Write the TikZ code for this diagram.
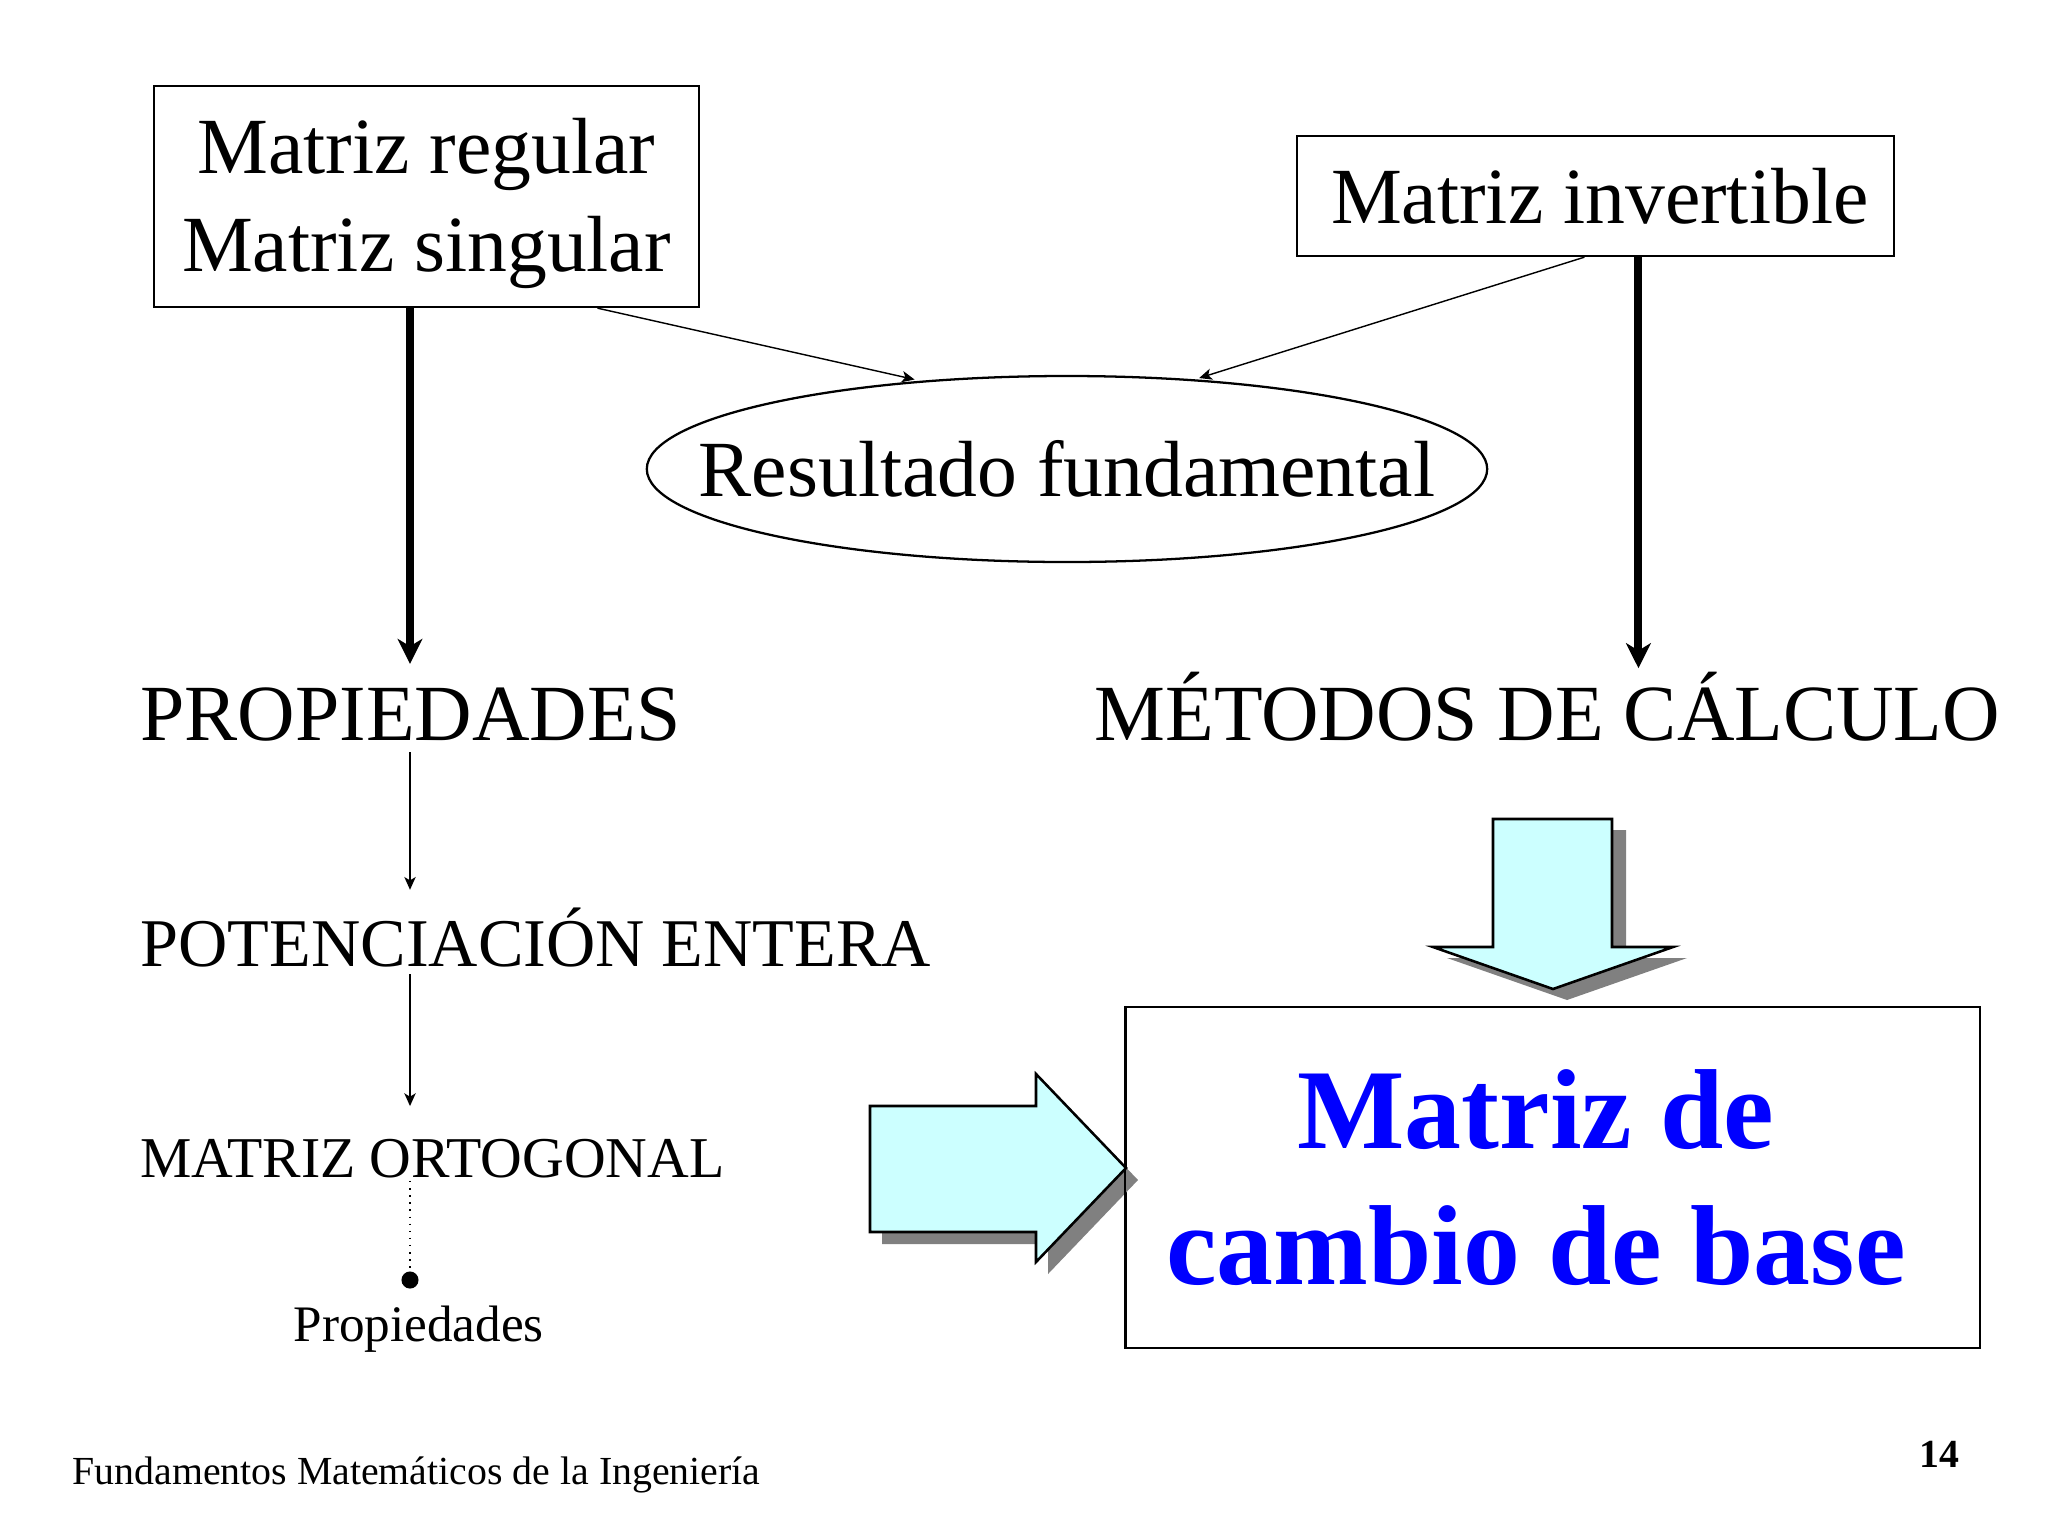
\documentclass[tikz,border=0pt]{standalone}
\usepackage{fontspec}
\setmainfont{Liberation Serif}
\usetikzlibrary{arrows.meta,positioning,shapes.geometric}
\definecolor{lightcyan}{RGB}{204,255,255}
\definecolor{shadowgray}{RGB}{128,128,128}
\definecolor{pureblue}{RGB}{0,0,255}

\begin{document}
\begin{tikzpicture}[x=0.3516pt, y=-0.3516pt,
    textlabel/.style={anchor=base west, inner sep=0pt},
    topbox/.style={rectangle, draw, line width=0.8pt, align=center, font=\fontsize{28}{34.5}\selectfont},
    result/.style={ellipse, draw, line width=0.8pt, inner xsep=-25pt, inner ysep=0pt, minimum height=65.4pt, font=\fontsize{28}{34}\selectfont},
    bigbox/.style={rectangle, draw, line width=0.8pt, minimum width=300.3pt, minimum height=119.9pt, align=center, text=pureblue, font=\bfseries\fontsize{40}{48}\selectfont},
    bigarrow/.style={line width=2.8pt, -{Stealth[length=8.8pt, width=8.7pt, inset=2.6pt]}},
    smallarrow/.style={line width=0.5pt, -{Stealth[length=4.5pt, width=4pt, inset=1.2pt]}},
    blockarrow/.style={draw, fill=lightcyan, line width=0.9pt, line join=miter},
    blockshadow/.style={fill=shadowgray}
]

% Frame
\useasboundingbox (0,0) rectangle (2048,1536);

% Top boxes
\node[topbox, minimum width=191.6pt, minimum height=77.7pt, text depth=1pt] (regular) at (426.5,196.5) {Matriz regular\\Matriz singular};
\node[topbox, minimum width=209.9pt, minimum height=42.2pt] (invert) at (1595.5,196) {\hspace*{3pt}Matriz invertible};
\node[result] (fund) at (1067,469) {Resultado fundamental};

% Left column
\node[textlabel, font=\fontsize{28}{34}\selectfont] (prop) at (140,740) {PROPIEDADES};
\node[textlabel, font=\fontsize{24}{29}\selectfont] (pot) at (140,966) {POTENCIACIÓN ENTERA};
\node[textlabel, font=\fontsize{20.3}{24}\selectfont] (orto) at (140,1177) {MATRIZ ORTOGONAL};
\node[circle, fill, inner sep=0pt, minimum size=6pt] (dot) at (410,1280) {};
\node[textlabel, font=\fontsize{18}{22}\selectfont] (sub) at (293,1341) {Propiedades};

% Right column
\node[textlabel, font=\fontsize{28}{34}\selectfont] (metodos) at (1094,740) {MÉTODOS DE CÁLCULO};
\node[bigbox] (cambio) at (1553,1177.5) {Matriz de\hspace*{12pt}\\cambio de base\hspace*{12pt}};

% Thick arrows
\draw[bigarrow] (regular.south -| dot) -- ([yshift=8pt]prop.north -| dot);
\draw[bigarrow] ([xshift=15.1pt]invert.south) -- ([xshift=15.1pt,yshift=1pt]invert.south |- metodos.north);

% Thin arrows into the ellipse
\draw[smallarrow, shorten >=2pt] ([xshift=60.1pt]regular.south) -- (fund.149);
\draw[smallarrow, shorten >=1.5pt] ([xshift=-3.9pt]invert.south) -- (fund.35);

% Left chain
\draw[smallarrow] ([yshift=-3.9pt]prop.south -| dot) -- ([yshift=6pt]pot.north -| dot);
\draw[smallarrow] ([yshift=-2.5pt]pot.south -| dot) -- ([yshift=11.3pt]orto.north -| dot);
\draw[line width=0.5pt, dotted] ([yshift=-1pt]orto.south -| dot) -- (dot);

% Block arrows
\fill[blockshadow, shift={(14,11)}] (1493,819) -- (1612,819) -- (1612,947) -- (1673,947) -- (1553,989) -- (1433,947) -- (1493,947) -- cycle;
\draw[blockarrow] (1493,819) -- (1612,819) -- (1612,947) -- (1673,947) -- (1553,989) -- (1433,947) -- (1493,947) -- cycle;
\fill[blockshadow, shift={(12,12)}] (870,1106) -- (1036,1106) -- (1036,1074) -- (1126,1168) -- (1036,1262) -- (1036,1232) -- (870,1232) -- cycle;
\draw[blockarrow] (870,1106) -- (1036,1106) -- (1036,1074) -- (1126,1168) -- (1036,1262) -- (1036,1232) -- (870,1232) -- cycle;
\draw[line width=0.8pt] (cambio.north west) -- (cambio.south west);

% Footer
\node[textlabel, font=\fontsize{14}{17}\selectfont] (footer) at (72,1484) {Fundamentos Matemáticos de la Ingeniería};
\node[anchor=base, inner sep=0pt, font=\bfseries\fontsize{14}{17}\selectfont] (page) at (1939,1467) {14};

\end{tikzpicture}
\end{document}
